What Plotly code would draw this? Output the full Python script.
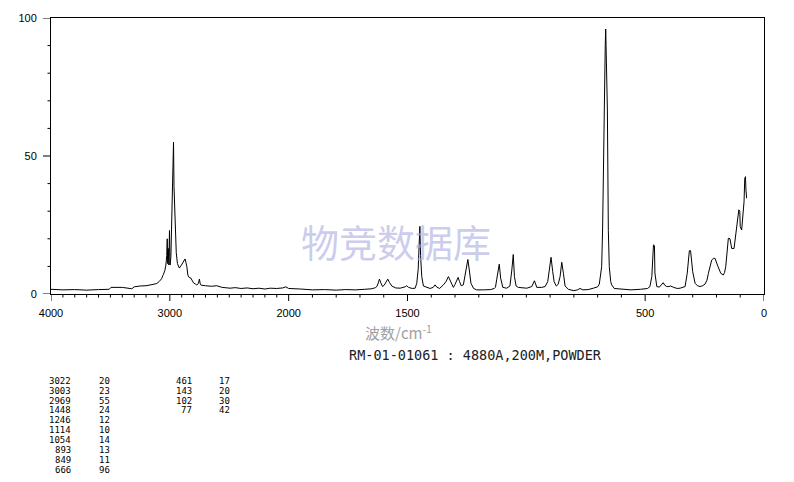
import plotly.graph_objects as go

wavenumber = [
    4000, 3900, 3800, 3700, 3600, 3510, 3495, 3400, 3320, 3300, 3250, 3200, 3150, 3110,
    3090, 3070, 3055, 3042, 3033, 3026, 3022, 3018, 3013, 3008, 3003, 2998, 2991, 2984,
    2979, 2974, 2969, 2965, 2961, 2955, 2946, 2936, 2920, 2905, 2890, 2880, 2872, 2865,
    2857, 2848, 2838, 2824, 2810, 2800, 2785, 2773, 2760, 2751, 2744, 2737, 2700, 2650,
    2605, 2560, 2493, 2450, 2400, 2350, 2300, 2250, 2200, 2156, 2100, 2050, 2024, 2000,
    1950, 1900, 1850, 1800, 1760, 1720, 1680, 1650, 1635, 1629, 1623, 1618, 1612, 1605,
    1598, 1590, 1583, 1576, 1566, 1550, 1531, 1510, 1503, 1496, 1480, 1468, 1461, 1455,
    1450, 1448, 1445, 1440, 1433, 1419, 1405, 1392, 1384, 1377, 1365, 1349, 1338, 1328,
    1318, 1312, 1307, 1300, 1292, 1287, 1281, 1274, 1265, 1258, 1250, 1246, 1240, 1233,
    1222, 1209, 1180, 1150, 1135, 1130, 1125, 1118, 1114, 1108, 1099, 1083, 1069, 1061,
    1055, 1050, 1043, 1034, 1015, 998, 977, 971, 966, 961, 956, 935, 921, 910,
    903, 896, 889, 883, 874, 866, 858, 851, 844, 837, 823, 800, 785, 774,
    762, 740, 718, 700, 693, 683, 679, 673, 668, 666, 663, 659, 655, 651,
    645, 641, 630, 600, 560, 520, 490, 480, 472, 465, 461, 459, 451, 440,
    430, 424, 418, 409, 400, 393, 380, 365, 353, 342, 332, 323, 314, 309,
    300, 290, 280, 269, 258, 248, 240, 234, 227, 220, 213, 206, 196, 188,
    182, 171, 166, 161, 155, 150, 143, 136, 126, 118, 112, 106, 102, 100,
    94, 90, 84, 81, 78, 76, 73,
]
intensity = [
    1.7, 1.5, 1.6, 1.4, 1.6, 1.7, 2.4, 2.4, 1.9, 2.6, 2.9, 3.0, 3.4, 3.8,
    4.5, 5.5, 7.0, 8.5, 10.5, 14, 20, 11, 16.5, 10.5, 23, 10.5, 13.5, 25,
    34, 41, 55, 39, 34, 23, 15, 11, 9.4, 10.3, 11.2, 12.0, 12.7, 11.5,
    9.9, 6.8, 6.0, 5.8, 4.6, 4.0, 3.6, 3.3, 3.8, 5.4, 3.6, 3.2, 3.0, 2.8,
    3.0, 2.4, 2.1, 2.3, 2.0, 2.2, 1.9, 2.1, 1.8, 2.1, 2.0, 2.2, 2.6, 2.0,
    1.8, 1.5, 1.6, 1.4, 1.6, 1.5, 1.7, 1.9, 2.3, 2.7, 4.0, 5.4, 4.0, 2.7,
    3.2, 4.6, 5.4, 4.2, 2.9, 2.2, 2.1, 2.6, 3.0, 2.4, 2.0, 2.1, 3.9, 9.0,
    22, 24.5, 14, 6.3, 2.9, 2.3, 2.0, 2.4, 3.3, 2.5, 2.0, 3.3, 4.5, 6.3,
    4.5, 2.8, 2.4, 3.5, 5.0, 6.0, 4.5, 3.0, 3.3, 6.3, 10, 12.5, 8.7, 3.9,
    2.0, 1.5, 1.5, 1.6, 2.0, 2.4, 5.1, 9.0, 10.8, 5.7, 2.4, 2.1, 2.9, 8.7,
    14.3, 6.3, 2.9, 2.4, 2.2, 2.1, 2.7, 4.0, 4.8, 3.6, 2.4, 2.4, 2.7, 4.5,
    8.7, 13.3, 8.1, 4.5, 2.9, 3.5, 6.3, 11.5, 7.5, 2.9, 1.7, 1.2, 1.5, 2.0,
    1.5, 1.6, 2.1, 2.6, 3.6, 9.9, 23.9, 68.5, 90, 96, 84.8, 66.7, 23, 9.9,
    4.5, 3.3, 2.0, 1.7, 1.5, 1.7, 2.0, 2.7, 6.3, 17.8, 17.5, 7.6, 2.7, 2.5,
    3.5, 4.1, 3.2, 2.7, 2.7, 2.9, 2.4, 2.0, 2.1, 2.4, 2.7, 7.5, 15.7, 15.7,
    8.1, 3.9, 3.0, 2.7, 3.0, 3.6, 5.0, 7.5, 10, 12.3, 12.9, 12.9, 10.5, 8.7,
    7.5, 6.9, 7.8, 9.9, 15, 20.2, 20, 16.5, 16.5, 22, 25.6, 30.5, 30, 24.4,
    23.2, 28, 33.4, 41.9, 42.5, 37.7, 34.7,
]

# ---- axis tick labels ----
x_major = [4000, 3000, 2000, 1500, 500, 0]
x_major_labels = ["4000", "3000", "2000", "1500", "500", "0"]
x_minor = [v for v in range(100, 4000, 100) if v not in x_major]
y_major = [0, 50, 100]
y_major_labels = ["0", "50", "100"]
y_minor = [v for v in range(10, 100, 10) if v not in y_major]

# ---- peak table ----
peak_wn = [3022, 3003, 2969, 1448, 1246, 1114, 1054, 893, 849, 666, 461, 143, 102, 77]
peak_int = [20, 23, 55, 24, 12, 10, 14, 13, 11, 96, 17, 20, 30, 42]

x_title = "波数/cm<sup>-1</sup>"
sample_line = "RM-01-01061 : 4880A,200M,POWDER"
watermark = "物竞数据库"


def axis_pos(w):
    # wavenumber axis runs high -> low and is compressed 2x above 2000 cm^-1
    u = w if w <= 2000 else 2000 + (w - 2000) / 2
    return -u


fig = go.Figure()
fig.add_trace(go.Scatter(
    x=[axis_pos(w) for w in wavenumber], y=intensity, mode="lines",
    line=dict(color="black", width=1), hoverinfo="skip", showlegend=False,
))

W, H = 794, 482
L, R, T, B = 51, 30, 18, 188
PW, PH = W - L - R, H - T - B


def px(xp):
    return (xp - L) / PW


def py(yp):
    return (T + PH - yp) / PH


tick_font = dict(family="Liberation Sans Narrow, Arial Narrow, Arial", size=11, color="black")
xr = [axis_pos(4000), axis_pos(0)]

fig.update_layout(
    width=W, height=H, margin=dict(l=L, r=R, t=T, b=B, autoexpand=False),
    paper_bgcolor="white", plot_bgcolor="white",
    xaxis=dict(
        range=xr, showgrid=False, zeroline=False,
        showline=True, linecolor="black", linewidth=1, mirror=True,
        ticks="", tickmode="array",
        tickvals=[axis_pos(v) for v in x_major], ticktext=x_major_labels,
        tickfont=tick_font, ticklabelstandoff=9,
    ),
    yaxis=dict(
        range=[0, 100], showgrid=False, zeroline=False,
        showline=True, linecolor="black", linewidth=1, mirror=True,
        ticks="", tickmode="array", tickvals=y_major, ticktext=y_major_labels,
        tickfont=tick_font, ticklabelstandoff=11,
    ),
)

# tick marks, positioned through the axes' own scales
tick_line = dict(color="black", width=1)
shapes = []
for v in x_major + x_minor:
    ln = 7 if v in x_major else 3.5
    shapes.append(dict(type="line", xref="x", yref="paper",
                       x0=axis_pos(v), x1=axis_pos(v), y0=0, y1=-ln / PH, line=tick_line))
for v in y_major + y_minor:
    ln = 8 if v in y_major else 3.5
    shapes.append(dict(type="line", xref="paper", yref="y",
                       x0=0, x1=-ln / PW, y0=v, y1=v, line=tick_line))

ann = []
# watermark
ann.append(dict(x=px(396), y=py(240), xref="paper", yref="paper", text=watermark,
                showarrow=False, font=dict(family="Noto Sans CJK SC", size=38, color="rgba(170,170,225,0.6)"),
                xanchor="center", yanchor="middle"))
# axis title
ann.append(dict(x=px(398), y=py(332), xref="paper", yref="paper", text=x_title,
                showarrow=False, font=dict(family="Noto Sans CJK SC", size=15, color="#a0a0a0"),
                xanchor="center", yanchor="middle"))
# sample line
ann.append(dict(x=px(347), y=py(355), xref="paper", yref="paper", text=sample_line,
                showarrow=False, font=dict(family="DejaVu Sans Mono", size=13.5, color="#222222"),
                xanchor="left", yanchor="middle"))
# peak table
tab_font = dict(family="DejaVu Sans Mono", size=9, color="black")
for i, (w, v) in enumerate(zip(peak_wn, peak_int)):
    col = 0 if i < 10 else 1
    row = i if i < 10 else i - 10
    yy = 380.7 + row * 9.92
    xw = 73 if col == 0 else 194
    xi = 112 if col == 0 else 232
    ann.append(dict(x=px(xw), y=py(yy), xref="paper", yref="paper", text=str(w),
                    showarrow=False, font=tab_font, xanchor="right", yanchor="middle"))
    ann.append(dict(x=px(xi), y=py(yy), xref="paper", yref="paper", text=str(v),
                    showarrow=False, font=tab_font, xanchor="right", yanchor="middle"))

fig.update_layout(annotations=ann, shapes=shapes)
fig.write_html("out.html", config={"displayModeBar": False},
               post_script="document.body.style.margin='0px';")
